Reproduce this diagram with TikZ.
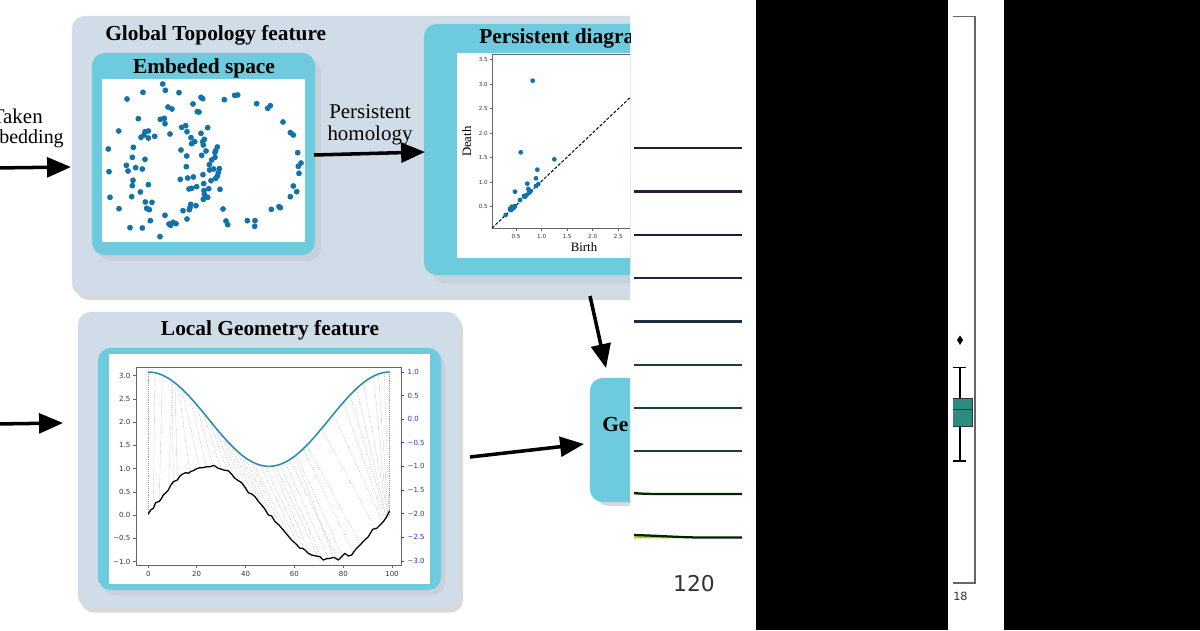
\documentclass[tikz,border=0pt]{standalone}
\usepackage{fontspec}
\setmainfont{Liberation Serif}
\newfontfamily\djv{DejaVu Sans}
\usetikzlibrary{arrows.meta}
\definecolor{panelblue}{HTML}{D0DDE9}
\definecolor{cyanbox}{HTML}{6DCBDD}
\definecolor{shadowg}{HTML}{D9D9D9}
\definecolor{shadowb}{HTML}{C8D1D9}
\definecolor{dotblue}{HTML}{1272AA}
\definecolor{curveblue}{HTML}{2B8CB0}
\definecolor{tickblue}{HTML}{3A2FB5}
\definecolor{axisg}{HTML}{666666}
\definecolor{ticktxt}{HTML}{333333}
\definecolor{boxteal}{HTML}{2E8B7F}
\tikzset{
  rbox/.style={rectangle,rounded corners=9pt,inner sep=0pt,outer sep=0pt,draw=none},
  panel/.style={rbox,fill=panelblue},
  cyanp/.style={rbox,fill=cyanbox},
  shadowlight/.style={rbox,fill=shadowg},
  shadowdark/.style={rbox,fill=shadowb},
  plotbg/.style={rectangle,inner sep=0pt,outer sep=0pt,fill=white},
  title/.style={font=\fontsize{15.2}{18}\selectfont\bfseries,inner sep=0pt,text=black},
  label/.style={font=\fontsize{14.9}{18}\selectfont,inner sep=0pt,text=black},
  axlabel/.style={font=\fontsize{9.1}{11}\selectfont,inner sep=0pt,text=black},
  ticksm/.style={font=\djv\fontsize{5}{6}\selectfont,inner sep=0pt,text=ticktxt},
  tickxs/.style={font=\djv\fontsize{4}{5}\selectfont,inner sep=0pt,text=ticktxt},
  tickbl/.style={font=\djv\fontsize{5}{6}\selectfont,inner sep=0pt,text=tickblue},
  bigarrow/.style={-{Triangle[length=17pt,width=14pt]},line width=2.5pt,black},
  axisline/.style={draw=axisg,line width=0.7pt},
  dtwline/.style={draw=gray!80,line width=0.35pt,densely dotted},
  ribbon/.style={line width=1.6pt},
}
\begin{document}
\begin{tikzpicture}[x=0.025cm,y=-0.025cm]
\useasboundingbox (0,0) rectangle (1200,630);
\clip (0,0) rectangle (1200,630);
\fill[white] (0,0) rectangle (1200,630);
% ---- left region, cut off at x=630
\begin{scope}
\clip (-40,0) rectangle (630,630);
\node[shadowlight,minimum width=15.7cm,minimum height=7cm] (globalS) at (390,160) {};
\node[panel,minimum width=15.7cm,minimum height=7cm] (global) at (386,156) {};
\node[title,anchor=west] (globalT) at (105,35) {Global Topology feature};
% embedded space
\node[shadowdark,minimum width=5.575cm,minimum height=5.05cm] (embS) at (209.5,160) {};
\node[cyanp,minimum width=5.575cm,minimum height=5.05cm] (emb) at (203.5,154) {};
\node[title,anchor=center] (embT) at (204,68.5) {Embeded space};
\node[plotbg,minimum width=5.08cm,minimum height=4.075cm] (embP) at (203.4,160.5) {};
\foreach \x/\y in {188/12,196/31,237/38,129/37,81/57,303/52,308/56,279/72,373/59,404/46,413/45,470/71,503/85,511/77,204/81,216/87,292/95,297/96,549/126,115/116,181/118,193/115,195/131,56/153,135/155,145/153,132/165,123/172,145/174,164/169,210/162,245/142,257/137,261/155,303/160,323/143,273/173,284/185,275/191,313/178,308/185,310/195,318/213,352/201,347/212,345/217,305/226,243/210,260/228,100/202,25/207,97/232,135/238,335/240,345/232,571/158,580/165,593/218,603/249,595/259,597/280,79/256,84/273,107/263,127/267,27/275,259/260,328/254,329/270,341/267,358/266,355/278,352/288,347/295,333/302,309/284,241/298,263/294,280/291,99/301,97/317,145/314,311/311,326/326,267/327,275/325,290/320,360/328,312/332,313/343,323/352,310/358,121/336,95/350,30/352,136/366,156/367,140/385,148/389,57/386,272/373,270/383,288/377,268/389,249/392,195/406,151/422,261/417,369/387,514/388,537/380,541/383,571/350,590/335,580/318,378/423,383/434,442/422,465/422,464/439,207/432,212/436,219/427,228/431,90/443,127/444,180/470}
  \fill[dotblue] ({100+\x/3},{80+\y/3}) circle[radius=2.9];
% persistent diagram
\node[shadowdark,minimum width=6.9cm,minimum height=6.275cm] (perS) at (570,157.5) {};
\node[cyanp,minimum width=6.9cm,minimum height=6.275cm] (per) at (562,149.5) {};
\node[title,anchor=west] (perT) at (479,38) {Persistent diagra};
\node[plotbg,minimum width=5.0cm,minimum height=5.11cm] (perP) at (557,155.5) {};
\draw[axisline] (630,54.3) -- (492,54.3) -- (492,228) -- (630,228);
\foreach \v/\z in {0.5/590,1.0/517,1.5/443,2.0/369,2.5/296,3.0/222,3.5/148} {
  \draw[axisg,line width=0.4pt] (492,{10+\z/3}) -- (489.5,{10+\z/3});
  \node[tickxs,anchor=east] (py\z) at (488,{10+\z/3}) {\v};
}
\foreach \v/\z in {0.5/318,1.0/395,1.5/471,2.0/548,2.5/625} {
  \draw[axisg,line width=0.4pt] ({410+\z/3},228) -- ({410+\z/3},230.5);
  \node[tickxs] (px\z) at ({410+\z/3},236) {\v};
}
\draw[black,line width=0.7pt,dash pattern=on 2.2pt off 1.2pt] (492,228) -- (630,97.7);
\foreach \x/\y in {368/212,332/427,433/448,382/479,378/505,352/521,315/545,355/537,358/545,287/615,300/597,305/590,303/600,312/592,315/588,310/595,330/570,342/558,350/555,358/548,362/543,378/528,385/522,345/560}
  \fill[dotblue] ({410+\x/3},{10+\y/3}) circle[radius=2.4];
\node[axlabel] (birth) at (584,247) {Birth};
\node[axlabel,rotate=90] (death) at (466.7,141.7) {Death};
% local geometry
\node[shadowlight,minimum width=9.55cm,minimum height=7.4cm] (locS) at (272,464.5) {};
\node[panel,minimum width=9.55cm,minimum height=7.4cm] (loc) at (269,460) {};
\node[title] (locT) at (270,330) {Local Geometry feature};
\node[shadowdark,minimum width=8.575cm,minimum height=6.05cm] (lgS) at (273.5,474) {};
\node[cyanp,minimum width=8.575cm,minimum height=6.05cm] (lg) at (269.5,469) {};
\node[plotbg,minimum width=8.025cm,minimum height=5.75cm] (lgP) at (269.5,469) {};
\begin{scope}[shift={(90,340)},x=0.00833333cm,y=-0.00833333cm]
  \foreach \a/\b in {175/175,195/190,217/208,247/235,247/250,255/262,265/300,275/330,300/350,320/372,340/395,360/415,375/435,390/455,405/475,420/495,440/515,450/535,465/555,480/580,490/605,510/630,525/650,545/665,555/690,570/700,585/720,600/745,615/735,650/815,695/860,730/880,760/885,780/890,800/890,820/895,850/893,865/895,883/897,899/899,640/790,620/760}
    \draw[dtwline] (\a,{237.5-141.5*cos(0.497238*(\a-175))}) -- (\b,{526-140*sin(0.497238*(\b-175))});
  \draw[curveblue,line width=1.1pt] plot[domain=175:899,samples=80,smooth] (\x,{237.5-141.5*cos(0.497238*(\x-175))});
  \draw[black,line width=0.9pt,line join=round] plot coordinates {(175,522)(182,510)(190,505)(197,488)(208,484)(214,476)(220,465)(228,458)(235,450)(242,436)(250,425)(262,420)(270,408)(278,402)(287,398)(295,400)(303,394)(310,392)(320,386)(330,383)(340,383)(350,380)(360,380)(372,376)(383,384)(395,388)(405,391)(415,392)(425,403)(435,415)(445,422)(455,428)(465,442)(475,458)(485,462)(495,470)(505,484)(515,495)(525,508)(535,525)(545,528)(555,545)(567,555)(580,570)(592,585)(605,600)(618,612)(630,625)(638,625)(645,630)(655,640)(665,645)(678,648)(690,650)(700,660)(710,656)(720,655)(732,652)(745,660)(755,650)(765,640)(775,648)(785,645)(797,628)(810,615)(822,602)(835,590)(848,568)(860,565)(870,555)(880,545)(890,530)(899,512)};
  \draw[axisline] (138,83) rectangle (935,676);
  \foreach \v/\z in {3.0/107,2.5/177,2.0/247,1.5/316,1.0/386,0.5/456,0.0/526,−0.5/595,−1.0/665} {
    \draw[axisg,line width=0.4pt] (138,\z) -- (130,\z);
    \node[ticksm,anchor=east] (ly\z) at (122,\z) {\v};
  }
  \foreach \v/\z in {0/175,20/320,40/467,60/613,80/760,100/906} {
    \draw[axisg,line width=0.4pt] (\z,676) -- (\z,684);
    \node[ticksm] (lx\z) at (\z,702) {\v};
  }
  \foreach \v/\z in {1.0/96,0.5/167,0.0/237,−0.5/308,−1.0/379,−1.5/450,−2.0/521,−2.5/592,−3.0/663} {
    \draw[tickblue,line width=0.4pt] (935,\z) -- (943,\z);
    \node[tickbl,anchor=west] (lr\z) at (952,\z) {\v};
  }
\end{scope}
% output box
\node[shadowlight,minimum width=3cm,minimum height=3.1cm] (genS) at (656,444) {};
\node[cyanp,minimum width=3cm,minimum height=3.1cm] (gen) at (650,440) {};
\node[title,anchor=west] (genT) at (602,425) {Ge};
% side labels and arrows
\node[label,anchor=east] (taken) at (43,116) {Taken};
\node[label,anchor=east,font=\fontsize{14.2}{18}\selectfont] (bedding) at (64,139) {bedding};
\node[label] (ph1) at (370,112) {Persistent};
\node[label] (ph2) at (370,135) {homology};
\coordinate (a1s) at (-5,168); \coordinate (a1e) at (71,167);
\coordinate (a2s) at (314,155); \coordinate (a2e) at (425,152);
\coordinate (a3s) at (-5,424); \coordinate (a3e) at (63,423);
\coordinate (a4s) at (590,296); \coordinate (a4e) at (606,368);
\coordinate (a5s) at (470,457); \coordinate (a5e) at (584,444);
\draw[bigarrow] (a1s) -- (a1e);
\draw[bigarrow] (a2s) -- (a2e);
\draw[bigarrow] (a3s) -- (a3e);
\draw[bigarrow] (a4s) -- (a4e);
\draw[bigarrow] (a5s) -- (a5e);
\end{scope}
% ---- stacked ribbons
\foreach \y/\cc in {148/2B1A3E,191.5/2A1A45,235/1C1C3F,278/1A2A40,321.5/1A3040,365/17403F,408/1A3F38,451/1E3F2E} {
  \definecolor{rc}{HTML}{\cc}
  \draw[ribbon,draw=rc] (634,\y) -- (742,\y);
}
\fill[yellow!70!green!80!black] (634,492.5) .. controls (650,494) and (660,494.5) .. (680,494.5) -- (634,494.5) -- cycle;
\draw[ribbon,draw=black!85!green] (634,493) .. controls (645,494.2) and (660,494) .. (680,494) -- (742,494);
\fill[yellow!75!green!90!black] (634,534.5) .. controls (660,535.5) and (680,537) .. (700,537.5) -- (700,538) -- (634,538.5) -- cycle;
\draw[ribbon,draw=black!85!green] (634,535) .. controls (660,535.8) and (680,537.3) .. (700,537.5) -- (742,537.5);
\node[font=\djv\fontsize{15.5}{18}\selectfont,text=ticktxt,inner sep=0pt] (n120) at (694,584) {120};
% ---- black bands
\fill[black] (756,0) rectangle (948,630);
\fill[black] (1004,0) rectangle (1200,630);
% ---- box plot
\draw[axisg,line width=0.8pt] (953,16.5) -- (975,16.5) -- (975,583) -- (953,583);
\fill[black] (960,335.5) -- (963,340) -- (960,345) -- (957,340) -- cycle;
\draw[black,line width=0.8pt] (953,367.5) -- (966,367.5) (960,367.5) -- (960,398);
\draw[black,line width=0.8pt] (953,461) -- (966,461) (960,426) -- (960,461);
\fill[boxteal] (953,398) rectangle (972,426);
\draw[black!80,line width=0.7pt] (953,398) -- (972,398) -- (972,426) -- (953,426);
\draw[black!80,line width=0.7pt] (953,409) -- (972,409);
\node[font=\djv\fontsize{8}{10}\selectfont,text=ticktxt,inner sep=0pt,anchor=west] (n18) at (953,596.5) {18};
\end{tikzpicture}
\end{document}
